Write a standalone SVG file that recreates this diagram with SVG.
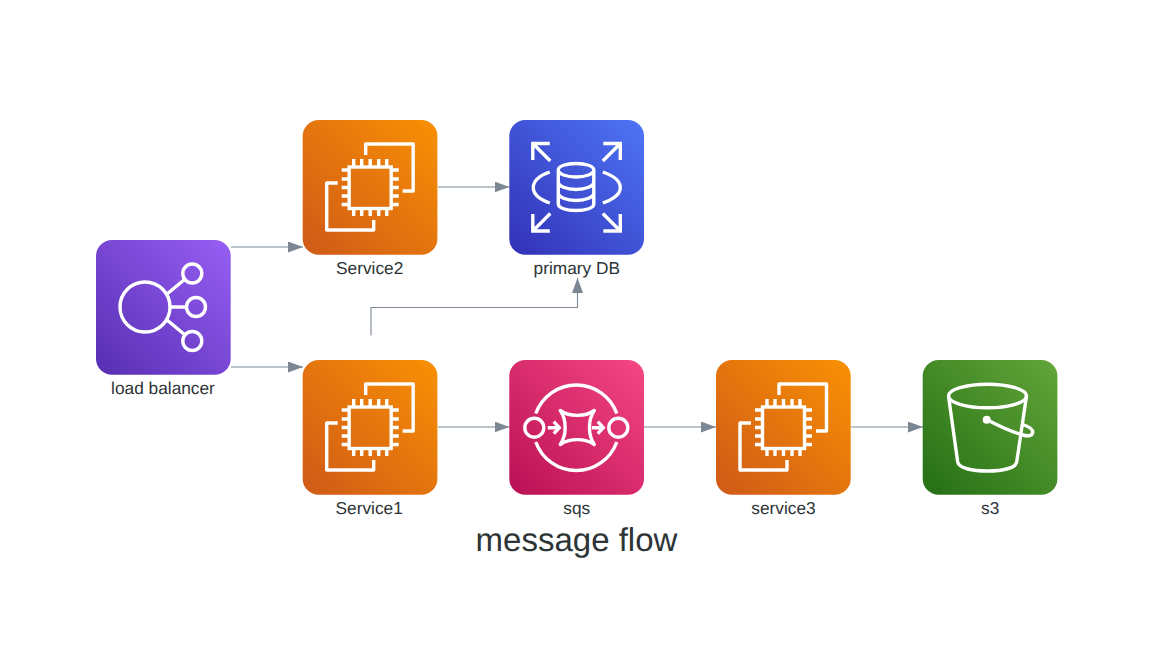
<svg xmlns="http://www.w3.org/2000/svg" width="1153" height="663" viewBox="0 0 1153 663">
<style>
text{font-family:"Liberation Sans",Arial,sans-serif;fill:#2d3436;text-anchor:middle;text-rendering:geometricPrecision}
.lbl{font-size:17.3px}
.title{font-size:33px}
.ic{fill:none;stroke:#fff;stroke-width:3.4}
.edge{fill:none;stroke:#7b8894;stroke-width:1.1}
.head{fill:#7b8894;stroke:none}
</style>
<defs>
<linearGradient id="gO" x1="-0.15" y1="1.15" x2="1.15" y2="-0.15"><stop offset="0" stop-color="#c8511b"/><stop offset="1" stop-color="#f90"/></linearGradient>
<linearGradient id="gP" x1="-0.15" y1="1.15" x2="1.15" y2="-0.15"><stop offset="0" stop-color="#4d27a8"/><stop offset="1" stop-color="#a166ff"/></linearGradient>
<linearGradient id="gB" x1="-0.15" y1="1.15" x2="1.15" y2="-0.15"><stop offset="0" stop-color="#2e27ad"/><stop offset="1" stop-color="#527fff"/></linearGradient>
<linearGradient id="gR" x1="-0.15" y1="1.15" x2="1.15" y2="-0.15"><stop offset="0" stop-color="#b0084d"/><stop offset="1" stop-color="#ff4f8b"/></linearGradient>
<linearGradient id="gG" x1="-0.15" y1="1.15" x2="1.15" y2="-0.15"><stop offset="0" stop-color="#1b660f"/><stop offset="1" stop-color="#6cae3e"/></linearGradient>
<marker id="arr" markerUnits="userSpaceOnUse" markerWidth="16" markerHeight="12" refX="15" refY="5.5" orient="auto"><path class="head" d="M0 0L15 5.5L0 11Z"/></marker>
<g id="ec2">
<rect width="134.700" height="134.700" rx="16" fill="url(#gO)"/>
<path class="ic" stroke-linejoin="round" d="M63 35V24H110.500V71H100M35 63H24V110H71V100"/>
<rect class="ic" x="46.500" y="47" width="42" height="41.500"/>
<path class="ic" d="M51 39V47M59 39V47M67.500 39V47M76 39V47M84 39V47M51 88V96M59 88V96M67.500 88V96M76 88V96M84 88V96M39 50H46M39 59H46M39 67.500H46M39 76H46M39 84.500H46M89 50H96M89 59H96M89 67.500H96M89 76H96M89 84.500H96"/>
</g>
</defs>
<rect width="1153" height="663" fill="#fff"/>
<g id="connectors">
<path class="edge" marker-end="url(#arr)" d="M231 247H303"/>
<path class="edge" marker-end="url(#arr)" d="M231 367H303"/>
<path class="edge" marker-end="url(#arr)" d="M438 187H509.500"/>
<path class="edge" marker-end="url(#arr)" d="M371 335.500V307.500H577.500V278"/>
<path class="edge" marker-end="url(#arr)" d="M438 427H509.500"/>
<path class="edge" marker-end="url(#arr)" d="M644 427H716"/>
<path class="edge" marker-end="url(#arr)" d="M851 427H923"/>
</g>
<g id="load-balancer" transform="translate(96 240)">
<rect width="134.700" height="134.700" rx="16" fill="url(#gP)"/>
<g class="ic">
<circle cx="49" cy="67" r="25"/>
<circle cx="96.300" cy="33.500" r="9.500"/>
<circle cx="100" cy="67" r="9.500"/>
<circle cx="96.300" cy="101" r="9.500"/>
<path d="M71 54L88.500 39.500M75 67H90.500M71 80L88.500 94.500"/>
</g>
<text class="lbl" x="67" y="153.500">load balancer</text>
</g>
<g id="service2" transform="translate(302.700 120)">
<use href="#ec2"/>
<text class="lbl" x="67" y="153.500">Service2</text>
</g>
<g id="primary-db" transform="translate(509.300 120)">
<rect width="134.700" height="134.700" rx="16" fill="url(#gB)"/>
<g class="ic">
<path d="M23.500 40V23.500H40.500M23.500 23.500L41 41M111 40V23.500H94M111 23.500L93.500 41M23.500 94V111H40.500M23.500 111L41 93.500M111 94V111H94M111 111L93.500 93.500"/>
<path d="M40.500 52C29 56 24 61 24 67.500C24 74 29 79 40.500 83M93.500 52C105 56 111 61 111 67.500C111 74 105 79 93.500 83"/>
<path d="M49 50V84C49 88 57 90.500 66.700 90.500C76.500 90.500 84.500 88 84.500 84V50C84.500 46 76.500 43.500 66.700 43.500C57 43.500 49 46 49 50C49 54 57 57 66.700 57C76.500 57 84.500 54 84.500 50M49 62C49 66 57 69.500 66.700 69.500C76.500 69.500 84.500 66 84.500 62M49 73C49 77 57 80.500 66.700 80.500C76.500 80.500 84.500 77 84.500 73"/>
</g>
<text class="lbl" x="67.500" y="153.500">primary DB</text>
</g>
<g id="service1" transform="translate(302.700 360)">
<use href="#ec2"/>
<text class="lbl" x="66.500" y="153.500">Service1</text>
</g>
<g id="sqs" transform="translate(509.300 360)">
<rect width="134.700" height="134.700" rx="16" fill="url(#gR)"/>
<g class="ic">
<circle cx="25" cy="67.700" r="9.500"/>
<circle cx="109" cy="67.700" r="9.500"/>
<path d="M26.500 53.500A43 43 0 0 1 107.500 53.500M26.500 82A43 43 0 0 0 107.500 82"/>
<path d="M38.500 67.700H49M44.500 61.700L50 67.700L44.500 73.700M82.500 67.700H93M88.500 61.700L94 67.700L88.500 73.700"/>
<path stroke-linejoin="round" d="M51 50.500C60 57 76 57 85 50.500C78.500 60 78.500 75 85 84.500C76 78 60 78 51 84.500C57.500 75 57.500 60 51 50.500Z"/>
</g>
<text class="lbl" x="67.500" y="153.500">sqs</text>
</g>
<g id="service3" transform="translate(716 360)">
<use href="#ec2"/>
<text class="lbl" x="67.500" y="153.500">service3</text>
</g>
<g id="s3" transform="translate(922.700 360)">
<rect width="134.700" height="134.700" rx="16" fill="url(#gG)"/>
<g class="ic">
<ellipse cx="64.800" cy="36" rx="39" ry="11.700"/>
<path d="M25.800 36L35 102C36 108 49 111 64.800 111C80 111 93 108 94 102L103.800 36"/>
<path d="M64 59.500C76 66 90 72 100 75C107 77 110 75 110 72C110 69.500 106 66.500 100 64.500"/>
</g>
<circle cx="64" cy="59.700" r="4" fill="#fff"/>
<text class="lbl" x="67.500" y="153.500">s3</text>
</g>
<text class="title" x="576.500" y="550.500">message flow</text>
</svg>
